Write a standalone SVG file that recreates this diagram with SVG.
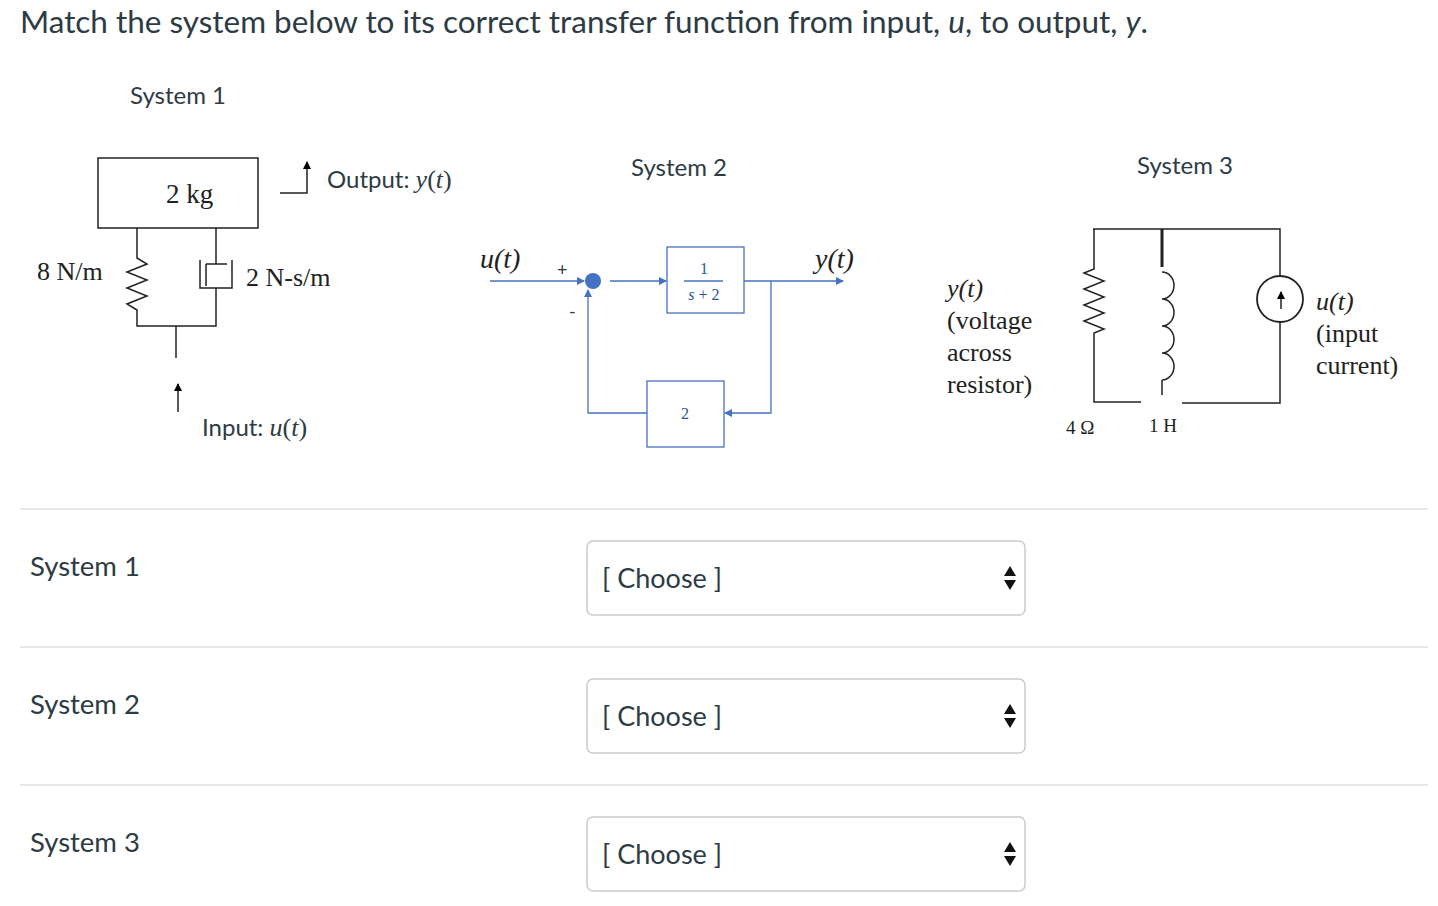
<svg xmlns="http://www.w3.org/2000/svg" width="1438" height="906" viewBox="0 0 1438 906">
<defs>
<marker id="ab" markerWidth="8" markerHeight="8" refX="7" refY="4" orient="auto" markerUnits="userSpaceOnUse"><path d="M0,0 L8,4 L0,8 z" fill="#4472c4"/></marker>
<marker id="ak" markerWidth="8" markerHeight="10" refX="7" refY="4" orient="auto" markerUnits="userSpaceOnUse"><path d="M0,0 L8,4 L0,8 z" fill="#000"/></marker>
</defs>
<style>
.s{font-family:Lato,"Open Sans",sans-serif;fill:#2d3b45}
.t{font-family:"Liberation Serif",serif;fill:#222}
.k{fill:none;stroke:#222;stroke-width:1.5}
.b{fill:none;stroke:#4472c4;stroke-width:1.3}
.bt{font-family:"Liberation Serif",serif;fill:#2f5597}
.sep{stroke:#dcdfe2;stroke-width:1.5}
.dd{fill:#fff;stroke:#c7cdd1;stroke-width:1.5}
</style>
<rect width="1438" height="906" fill="#fff"/>
<text class="s" x="20" y="33" font-size="30" textLength="1128" lengthAdjust="spacingAndGlyphs">Match the system below to its correct transfer function from input, <tspan font-style="italic">u</tspan>, to output, <tspan font-style="italic">y</tspan>.</text>

<g id="system1">
<text class="s" x="130" y="104" font-size="24">System 1</text>
<rect class="k" x="98" y="158" width="160" height="70"/>
<text class="t" x="166" y="203" font-size="27">2 kg</text>
<path class="k" d="M137,228 V258 L147,264 L127,272 L147,280 L127,288 L147,296 L127,304 L137,310 V326 H216 V288 M216,228 V262"/>
<path class="k" d="M200,260 V288 H232 V260 M206,264 H227 M206,264 V286 M216,264 V262"/>
<path class="k" d="M176,326 V358"/>
<path class="k" d="M178,412 V384" marker-end="url(#ak)"/>
<path class="k" d="M280,193 H307 V162" marker-end="url(#ak)"/>
<text class="t" x="37" y="280" font-size="26">8 N/m</text>
<text class="t" x="246" y="286" font-size="26">2 N-s/m</text>
<text class="s" x="327" y="188" font-size="24">Output: <tspan font-family="Liberation Serif" font-style="italic" font-size="26">y</tspan><tspan font-family="Liberation Serif" font-size="26">(</tspan><tspan font-family="Liberation Serif" font-style="italic" font-size="26">t</tspan><tspan font-family="Liberation Serif" font-size="26">)</tspan></text>
<text class="s" x="202" y="436" font-size="24">Input: <tspan font-family="Liberation Serif" font-style="italic" font-size="26">u</tspan><tspan font-family="Liberation Serif" font-size="26">(</tspan><tspan font-family="Liberation Serif" font-style="italic" font-size="26">t</tspan><tspan font-family="Liberation Serif" font-size="26">)</tspan></text>
</g>

<g id="system2">
<text class="s" x="631" y="176" font-size="24">System 2</text>
<text class="t" x="480" y="268" font-size="28" font-style="italic">u(t)</text>
<text class="t" x="815" y="268" font-size="28" font-style="italic">y(t)</text>
<text class="s" x="557" y="276" font-size="18">+</text>
<text class="s" x="569" y="318" font-size="18">-</text>
<circle cx="593" cy="281" r="8" fill="#4472c4"/>
<rect class="b" x="667" y="247" width="77" height="66"/>
<text class="bt" x="704" y="274" font-size="16" text-anchor="middle">1</text>
<line x1="684" y1="281" x2="723" y2="281" stroke="#4472c4" stroke-width="1.3"/>
<text class="bt" x="704" y="300" font-size="16" text-anchor="middle"><tspan font-style="italic">s</tspan> + 2</text>
<rect class="b" x="647" y="381" width="77" height="66"/>
<text class="bt" x="685" y="419" font-size="16" text-anchor="middle">2</text>
</g>

<g id="connectors">
<path class="b" d="M490,281 H584" marker-end="url(#ab)"/>
<path class="b" d="M610,281 H666" marker-end="url(#ab)"/>
<path class="b" d="M744,281 H843" marker-end="url(#ab)"/>
<path class="b" d="M771,281 V413 H725" marker-end="url(#ab)"/>
<path class="b" d="M647,413 H588 V290" marker-end="url(#ab)"/>
</g>

<g id="system3">
<text class="s" x="1137" y="174" font-size="24">System 3</text>
<path class="k" d="M1093,229 H1280 V276 M1280,322 V403 H1182 M1141,402 H1094 V333 L1104,329 L1084,321 L1104,313 L1084,305 L1104,297 L1084,289 L1104,281 L1084,273 L1094,269 V229"/>
<path fill="none" stroke="#222" stroke-width="3" d="M1162,229 V267"/>
<path class="k" d="M1162,272 a8,9 0 0 1 0,27 a8,9 0 0 1 0,27 a8,9 0 0 1 0,27 a8,9 0 0 1 0,27 M1162,380 V395"/>
<circle cx="1280" cy="299" r="23" fill="none" stroke="#222" stroke-width="1.8"/>
<path class="k" d="M1281,309 V292" marker-end="url(#ak)"/>
<text class="t" x="947" y="297" font-size="26" font-style="italic">y(t)</text>
<text class="t" x="947" y="329" font-size="26">(voltage</text>
<text class="t" x="947" y="361" font-size="26">across</text>
<text class="t" x="947" y="393" font-size="26">resistor)</text>
<text class="t" x="1316" y="310" font-size="26" font-style="italic">u(t)</text>
<text class="t" x="1316" y="342" font-size="26">(input</text>
<text class="t" x="1316" y="374" font-size="26">current)</text>
<text class="t" x="1066" y="434" font-size="19">4 Ω</text>
<text class="t" x="1149" y="432" font-size="19">1 H</text>
</g>

<g id="answers">
<line class="sep" x1="20" y1="509" x2="1428" y2="509"/>
<line class="sep" x1="20" y1="647" x2="1428" y2="647"/>
<line class="sep" x1="20" y1="785" x2="1428" y2="785"/>
<text class="s" x="30" y="576" font-size="27.5">System 1</text>
<text class="s" x="30" y="714" font-size="27.5">System 2</text>
<text class="s" x="30" y="852" font-size="27.5">System 3</text>
<rect class="dd" x="587" y="541" width="438" height="74" rx="6"/>
<rect class="dd" x="587" y="679" width="438" height="74" rx="6"/>
<rect class="dd" x="587" y="817" width="438" height="74" rx="6"/>
<text class="s" x="602" y="588" font-size="27">[ Choose ]</text>
<text class="s" x="602" y="726" font-size="27">[ Choose ]</text>
<text class="s" x="602" y="864" font-size="27">[ Choose ]</text>
<path d="M1004,576 L1010,566 L1016,576 z M1004,580 L1010,590 L1016,580 z" fill="#111"/>
<path d="M1004,714 L1010,704 L1016,714 z M1004,718 L1010,728 L1016,718 z" fill="#111"/>
<path d="M1004,852 L1010,842 L1016,852 z M1004,856 L1010,866 L1016,856 z" fill="#111"/>
</g>
</svg>
